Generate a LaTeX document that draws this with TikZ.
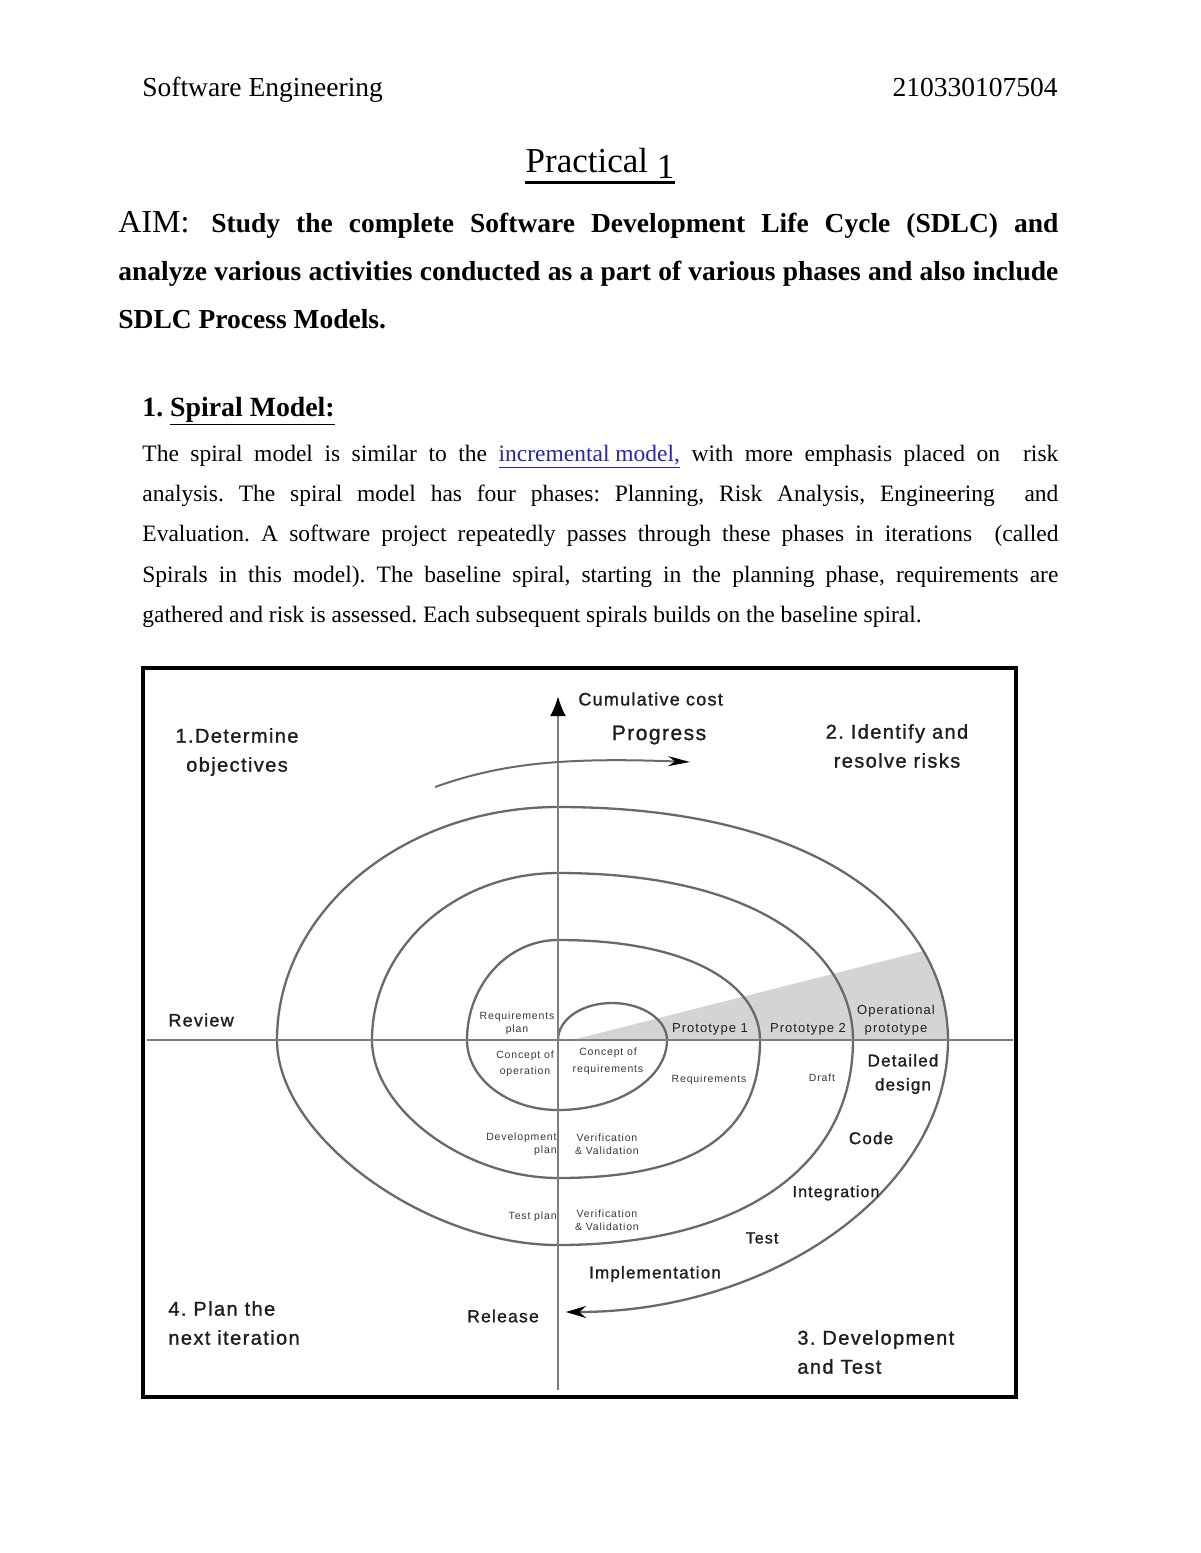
\documentclass[tikz,border=0pt]{standalone}
\usepackage{fontspec}
\setmainfont{Liberation Serif}
\newfontfamily\dg[LetterSpace=7, FakeBold=1.2]{Liberation Sans}
\newfontfamily\dgt[LetterSpace=8]{Liberation Sans}
\usetikzlibrary{arrows.meta}
\definecolor{linkblue}{RGB}{40,40,165}
\definecolor{spiralgray}{RGB}{105,105,105}
\definecolor{axisgray}{RGB}{125,125,125}
\definecolor{wedgegray}{RGB}{212,212,212}
\definecolor{labelink}{RGB}{30,30,30}
\definecolor{tinyink}{RGB}{55,55,55}
\begin{document}
\frenchspacing
\begin{tikzpicture}[x=0.5pt,y=-0.5pt,
  txt/.style={inner sep=0pt, anchor=base west},
  bodyfont/.style={font=\fontsize{11.75}{14}\selectfont},
  spiral/.style={draw=spiralgray, line width=1.15pt},
  axisline/.style={draw=axisgray, line width=1.4pt},
  lbl/.style={inner sep=0pt, text=labelink, align=center},
  big/.style={lbl, font=\dg\fontsize{10}{14.5}\selectfont},
  mid/.style={lbl, font=\dg\fontsize{8.5}{12}\selectfont},
  small/.style={lbl, font=\dgt\fontsize{6.5}{9}\selectfont},
  tiny/.style={inner sep=0pt, text=tinyink, align=center, font=\dgt\fontsize{5.25}{6.5}\selectfont}
]
\useasboundingbox[fill=white] (0,0) rectangle (1200,1553);

% ---------- page text ----------
\node[txt, font=\fontsize{13.75}{16}\selectfont] (hdrL) at (142,96) {Software Engineering};
\node[inner sep=0pt, anchor=base east, font=\fontsize{13.75}{16}\selectfont] (hdrR) at (1058,96) {210330107504};

\node[inner sep=0pt, anchor=base, font=\fontsize{17.5}{20}\selectfont] (title) at (600,172) {Practical \lower3pt\hbox{1}};
\draw[line width=1.5pt] ([yshift=-5pt]title.base west) -- ([yshift=-5pt]title.base east);

\node[txt, font=\fontsize{16}{19}\selectfont] (aim) at (118,232) {AIM:};
\node[txt, font=\bfseries\fontsize{13.75}{16}\selectfont] (aim1) at (211,232)
  {\makebox[423.5pt][s]{Study the complete Software Development Life Cycle (SDLC) and}};
\node[txt, font=\bfseries\fontsize{13.75}{16}\selectfont] (aim2) at (118,280)
  {\makebox[470pt][s]{analyze various activities conducted as a part of various phases and also include}};
\node[txt, font=\bfseries\fontsize{13.75}{16}\selectfont] (aim3) at (118,328) {SDLC Process Models.};

\node[txt, font=\bfseries\fontsize{13.9}{17}\selectfont] (sec) at (142,416) {1. \underline{Spiral Model:}};

\node[txt, bodyfont] (b1) at (142,461)
  {\makebox[458pt][s]{The spiral model is similar to the {\color{linkblue}\underline{incremental model,}} with more emphasis placed on \ risk}};
\node[txt, bodyfont] (b2) at (142,501)
  {\makebox[458pt][s]{analysis. The spiral model has four phases: Planning, Risk Analysis, Engineering \ and}};
\node[txt, bodyfont] (b3) at (142,541)
  {\makebox[458pt][s]{Evaluation. A software project repeatedly passes through these phases in iterations \ (called}};
\node[txt, bodyfont] (b4) at (142,582)
  {\makebox[458pt][s]{Spirals in this model). The baseline spiral, starting in the planning phase, requirements are}};
\node[txt, bodyfont] (b5) at (142,622)
  {gathered and risk is assessed. Each subsequent spirals builds on the baseline spiral.};

% ---------- diagram ----------
% shaded wedge
\begin{scope}
  \clip (558,1040) -- (558,807) .. controls (831,807) and (948,923.5) .. (948,1040) -- cycle;
  \fill[wedgegray] (572,1040) -- (1010,929) -- (1010,1040) -- cycle;
\end{scope}

% spiral
\draw[spiral] (558,1040) .. controls (558,1019.6) and (581.6,1003) .. (612,1003)
   .. controls (642.4,1003) and (667,1019.6) .. (667,1040)
   .. controls (667,1078.6) and (618.2,1110) .. (558,1110)
   .. controls (507.8,1110) and (467,1078.6) .. (467,1040)
   .. controls (467,984.8) and (507.8,940) .. (558,940)
   .. controls (699.4,940) and (760,990) .. (760,1040)
   .. controls (760,1133.8) and (695.4,1178) .. (558,1178)
   .. controls (465,1178) and (372,1109) .. (372,1040)
   .. controls (372,947.8) and (455.3,873) .. (558,873)
   .. controls (764.5,873) and (853,956.5) .. (853,1040)
   .. controls (853,1167) and (740.9,1245) .. (558,1245)
   .. controls (425.9,1245) and (277,1136.35) .. (277,1040)
   .. controls (277,911.4) and (402.9,807) .. (558,807)
   .. controls (831,807) and (948,923.5) .. (948,1040);
\coordinate (relstart) at (948,1040);
\coordinate (relend) at (566,1312);
\draw[spiral, -{Stealth[length=10pt,width=6pt,color=black]}] (relstart)
   .. controls (948,1190) and (772,1312) .. (relend);

% axes
\coordinate (xl) at (147,1040);
\coordinate (xr) at (1013,1040);
\coordinate (ybot) at (558,1390);
\coordinate (ytop) at (558,696);
\draw[axisline] (xl) -- (xr);
\draw[axisline, -{Latex[length=10pt,width=8pt,color=black]}] (ybot) -- (ytop);

% progress arc
\coordinate (pa) at (435,787);
\coordinate (pb) at (690,762);
\draw[draw=spiralgray, line width=1pt, -{Stealth[length=11pt,width=5pt,color=black]}] (pa) .. controls (500,764) and (560,757) .. (pb);

% border
\draw[line width=2pt] (143,668) rectangle (1016,1397);

% labels
\node[lbl, anchor=west, font=\dg\fontsize{9}{11}\selectfont] (cost) at (578,699) {Cumulative cost};
\node[lbl, font=\dg\fontsize{10.5}{12}\selectfont] (progress) at (659,735) {Progress};
\node[big] (q1) at (237,752) {1.Determine\\objectives};
\node[big] (q2) at (897,746) {2. Identify and\\resolve risks};
\node[big, anchor=west, align=left] (q3) at (797,1352) {3. Development\\and Test};
\node[big, anchor=west, align=left] (q4) at (168,1323) {4. Plan the\\next iteration};
\node[lbl, anchor=west, font=\dg\fontsize{9}{11}\selectfont] (review) at (168,1020) {Review};
\node[lbl, font=\dg\fontsize{8.75}{11}\selectfont] (release) at (503,1316) {Release};
\node[mid] (impl) at (655,1274) {Implementation};
\node[lbl, font=\dg\fontsize{8}{10}\selectfont] (test) at (762,1238) {Test};
\node[lbl, font=\dg\fontsize{8}{10}\selectfont] (integ) at (836,1193) {Integration};
\node[mid] (code) at (871,1138) {Code};
\node[mid] (dd) at (903,1074) {Detailed\\design};
\node[small] (proto1) at (710,1029) {Prototype 1};
\node[small] (proto2) at (808,1029) {Prototype 2};
\node[small] (opproto) at (896,1020) {Operational\\prototype};

\node[tiny] (reqplan) at (517,1023) {Requirements\\plan};
\node[tiny, font=\dgt\fontsize{5.25}{8}\selectfont] (conop) at (525,1064) {Concept of\\operation};
\node[tiny, font=\dgt\fontsize{5.25}{8.5}\selectfont] (conreq) at (608,1061) {Concept of\\requirements};
\node[tiny] (req) at (709,1080) {Requirements};
\node[tiny] (draft) at (822,1078) {Draft};
\node[tiny, anchor=east, align=right] (devplan) at (557,1144) {Development\\plan};
\node[tiny] (vv1) at (607,1144) {Verification\\\& Validation};
\node[tiny, anchor=east] (testplan) at (557,1217) {Test plan};
\node[tiny] (vv2) at (607,1220) {Verification\\\& Validation};
\end{tikzpicture}
\end{document}
